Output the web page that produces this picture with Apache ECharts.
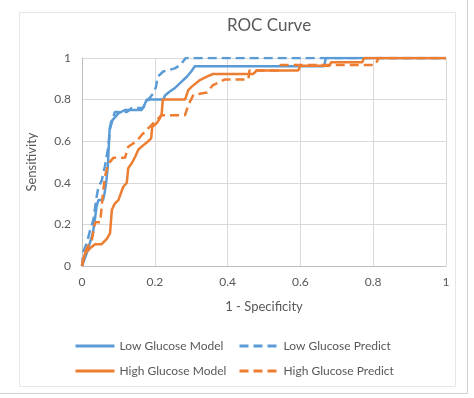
<!DOCTYPE html>
<html>
<head>
<meta charset="utf-8">
<script src="https://cdn.jsdelivr.net/npm/echarts@6/dist/echarts.min.js"></script>
<style>
  html, body { margin: 0; padding: 0; background: #fff; }
  #main { width: 474px; height: 398px; }
</style>
</head>
<body>
<div id="main"></div>
<script>
// ROC points: [1 - specificity, sensitivity]
const lowModel = [
  [0, 0], [0.016, 0.077], [0.03, 0.16], [0.035, 0.22], [0.04, 0.285], [0.045, 0.317],
  [0.058, 0.317], [0.062, 0.35], [0.067, 0.41], [0.071, 0.48], [0.074, 0.59], [0.076, 0.66],
  [0.08, 0.694], [0.1, 0.734], [0.118, 0.75], [0.164, 0.75], [0.173, 0.78], [0.178, 0.8],
  [0.223, 0.8], [0.228, 0.82], [0.242, 0.84], [0.255, 0.855], [0.27, 0.88], [0.288, 0.91],
  [0.3, 0.935], [0.31, 0.96], [0.665, 0.96], [0.67, 1], [1, 1]
];
const lowPredict = [
  [0, 0], [0.004, 0.07], [0.013, 0.11], [0.022, 0.17], [0.031, 0.22], [0.04, 0.33],
  [0.045, 0.38], [0.054, 0.41], [0.063, 0.48], [0.072, 0.57], [0.077, 0.66], [0.09, 0.74],
  [0.123, 0.74], [0.137, 0.76], [0.168, 0.76], [0.182, 0.8], [0.196, 0.83], [0.203, 0.86],
  [0.208, 0.91], [0.223, 0.935], [0.255, 0.95], [0.27, 0.966], [0.285, 1], [1, 1]
];
const highModel = [
  [0, 0], [0.008, 0.06], [0.022, 0.085], [0.036, 0.105], [0.054, 0.105], [0.068, 0.13],
  [0.077, 0.157], [0.082, 0.27], [0.09, 0.3], [0.1, 0.317], [0.113, 0.38], [0.123, 0.4],
  [0.127, 0.47], [0.137, 0.495], [0.146, 0.525], [0.155, 0.56], [0.168, 0.58], [0.182, 0.6],
  [0.19, 0.614], [0.193, 0.67], [0.205, 0.686], [0.214, 0.71], [0.219, 0.734], [0.222, 0.8],
  [0.283, 0.8], [0.292, 0.846], [0.3, 0.86], [0.324, 0.894], [0.343, 0.91], [0.36, 0.923],
  [0.47, 0.923], [0.48, 0.94], [0.594, 0.94], [0.6, 0.963], [0.68, 0.963], [0.685, 0.98],
  [0.77, 0.98], [0.775, 1], [1, 1]
];
const highPredict = [
  [0, 0], [0.004, 0.045], [0.013, 0.085], [0.027, 0.125], [0.036, 0.21], [0.05, 0.21],
  [0.054, 0.285], [0.058, 0.357], [0.063, 0.43], [0.072, 0.49], [0.086, 0.52], [0.118, 0.52],
  [0.127, 0.573], [0.15, 0.6], [0.164, 0.63], [0.178, 0.654], [0.2, 0.694], [0.219, 0.725],
  [0.283, 0.725], [0.292, 0.774], [0.306, 0.822], [0.343, 0.834], [0.36, 0.87], [0.393, 0.897],
  [0.457, 0.897], [0.46, 0.94], [0.54, 0.94], [0.545, 0.966], [0.805, 0.966], [0.815, 1], [1, 1]
];
const seriesNames = ['Low Glucose Model', 'Low Glucose Predict', 'High Glucose Model', 'High Glucose Predict'];

const BLUE = '#5b9bd5';
const ORANGE = '#ed7d31';
const font = 'Lato, "Open Sans", sans-serif';

const chart = echarts.init(document.getElementById('main'));

function rocLine(name, data, color, dashed) {
  return {
    name: name,
    type: 'line',
    data: data,
    symbol: 'none',
    animation: false,
    lineStyle: { color: color, width: 2.5, type: dashed ? [9, 5] : 'solid' },
    itemStyle: { color: color }
  };
}

// one legend per entry so the two columns line up like the original
function legendAt(name, left, top) {
  return {
    data: [name],
    left: left,
    top: top,
    padding: 0,
    itemWidth: 39,
    itemHeight: 14,
    itemStyle: { opacity: 0 }, // line only, no marker dot
    lineStyle: { width: 3 },
    textStyle: { color: '#595959', fontSize: 12, fontFamily: font }
  };
}

const option = {
  backgroundColor: '#fff',
  title: {
    text: 'ROC Curve',
    left: 264,
    textAlign: 'center',
    top: 12,
    textStyle: { color: '#595959', fontSize: 17, fontWeight: 'normal', fontFamily: font }
  },
  grid: { left: 82, right: 28, top: 58, bottom: 132 },
  legend: [
    legendAt(seriesNames[0], 74, 340),
    legendAt(seriesNames[1], 238, 340),
    legendAt(seriesNames[2], 74, 365),
    legendAt(seriesNames[3], 238, 365)
  ],
  xAxis: {
    type: 'value',
    min: 0, max: 1, interval: 0.2,
    name: '1 - Specificity',
    nameLocation: 'middle',
    nameGap: 34,
    nameTextStyle: { color: '#595959', fontSize: 13, fontFamily: font },
    axisLine: { show: true, lineStyle: { color: '#bfbfbf', width: 1 } },
    axisTick: { show: false },
    axisLabel: { color: '#595959', fontSize: 12, fontFamily: font, margin: 10 },
    splitLine: { show: true, lineStyle: { color: '#d9d9d9', width: 1 } }
  },
  yAxis: {
    type: 'value',
    min: 0, max: 1, interval: 0.2,
    name: 'Sensitivity',
    nameLocation: 'middle',
    nameGap: 44,
    nameTextStyle: { color: '#595959', fontSize: 13, fontFamily: font },
    axisLine: { show: true, lineStyle: { color: '#bfbfbf', width: 1 } },
    axisTick: { show: false },
    axisLabel: { color: '#595959', fontSize: 12, fontFamily: font, margin: 11 },
    splitLine: { show: true, lineStyle: { color: '#d9d9d9', width: 1 } }
  },
  graphic: [
    {
      type: 'rect',
      shape: { x: 19.5, y: 12.5, width: 436, height: 374 },
      style: { fill: 'none', stroke: '#e6e6e6', lineWidth: 1 },
      silent: true
    },
    {
      type: 'polyline',
      shape: { points: [[0, 393.5], [467.5, 393.5], [467.5, 0]] },
      style: { fill: 'none', stroke: '#cfcfcf', lineWidth: 1 },
      silent: true
    }
  ],
  series: [
    rocLine(seriesNames[0], lowModel, BLUE, false),
    rocLine(seriesNames[1], lowPredict, BLUE, true),
    rocLine(seriesNames[2], highModel, ORANGE, false),
    rocLine(seriesNames[3], highPredict, ORANGE, true)
  ]
};

chart.setOption(option);
</script>
</body>
</html>
